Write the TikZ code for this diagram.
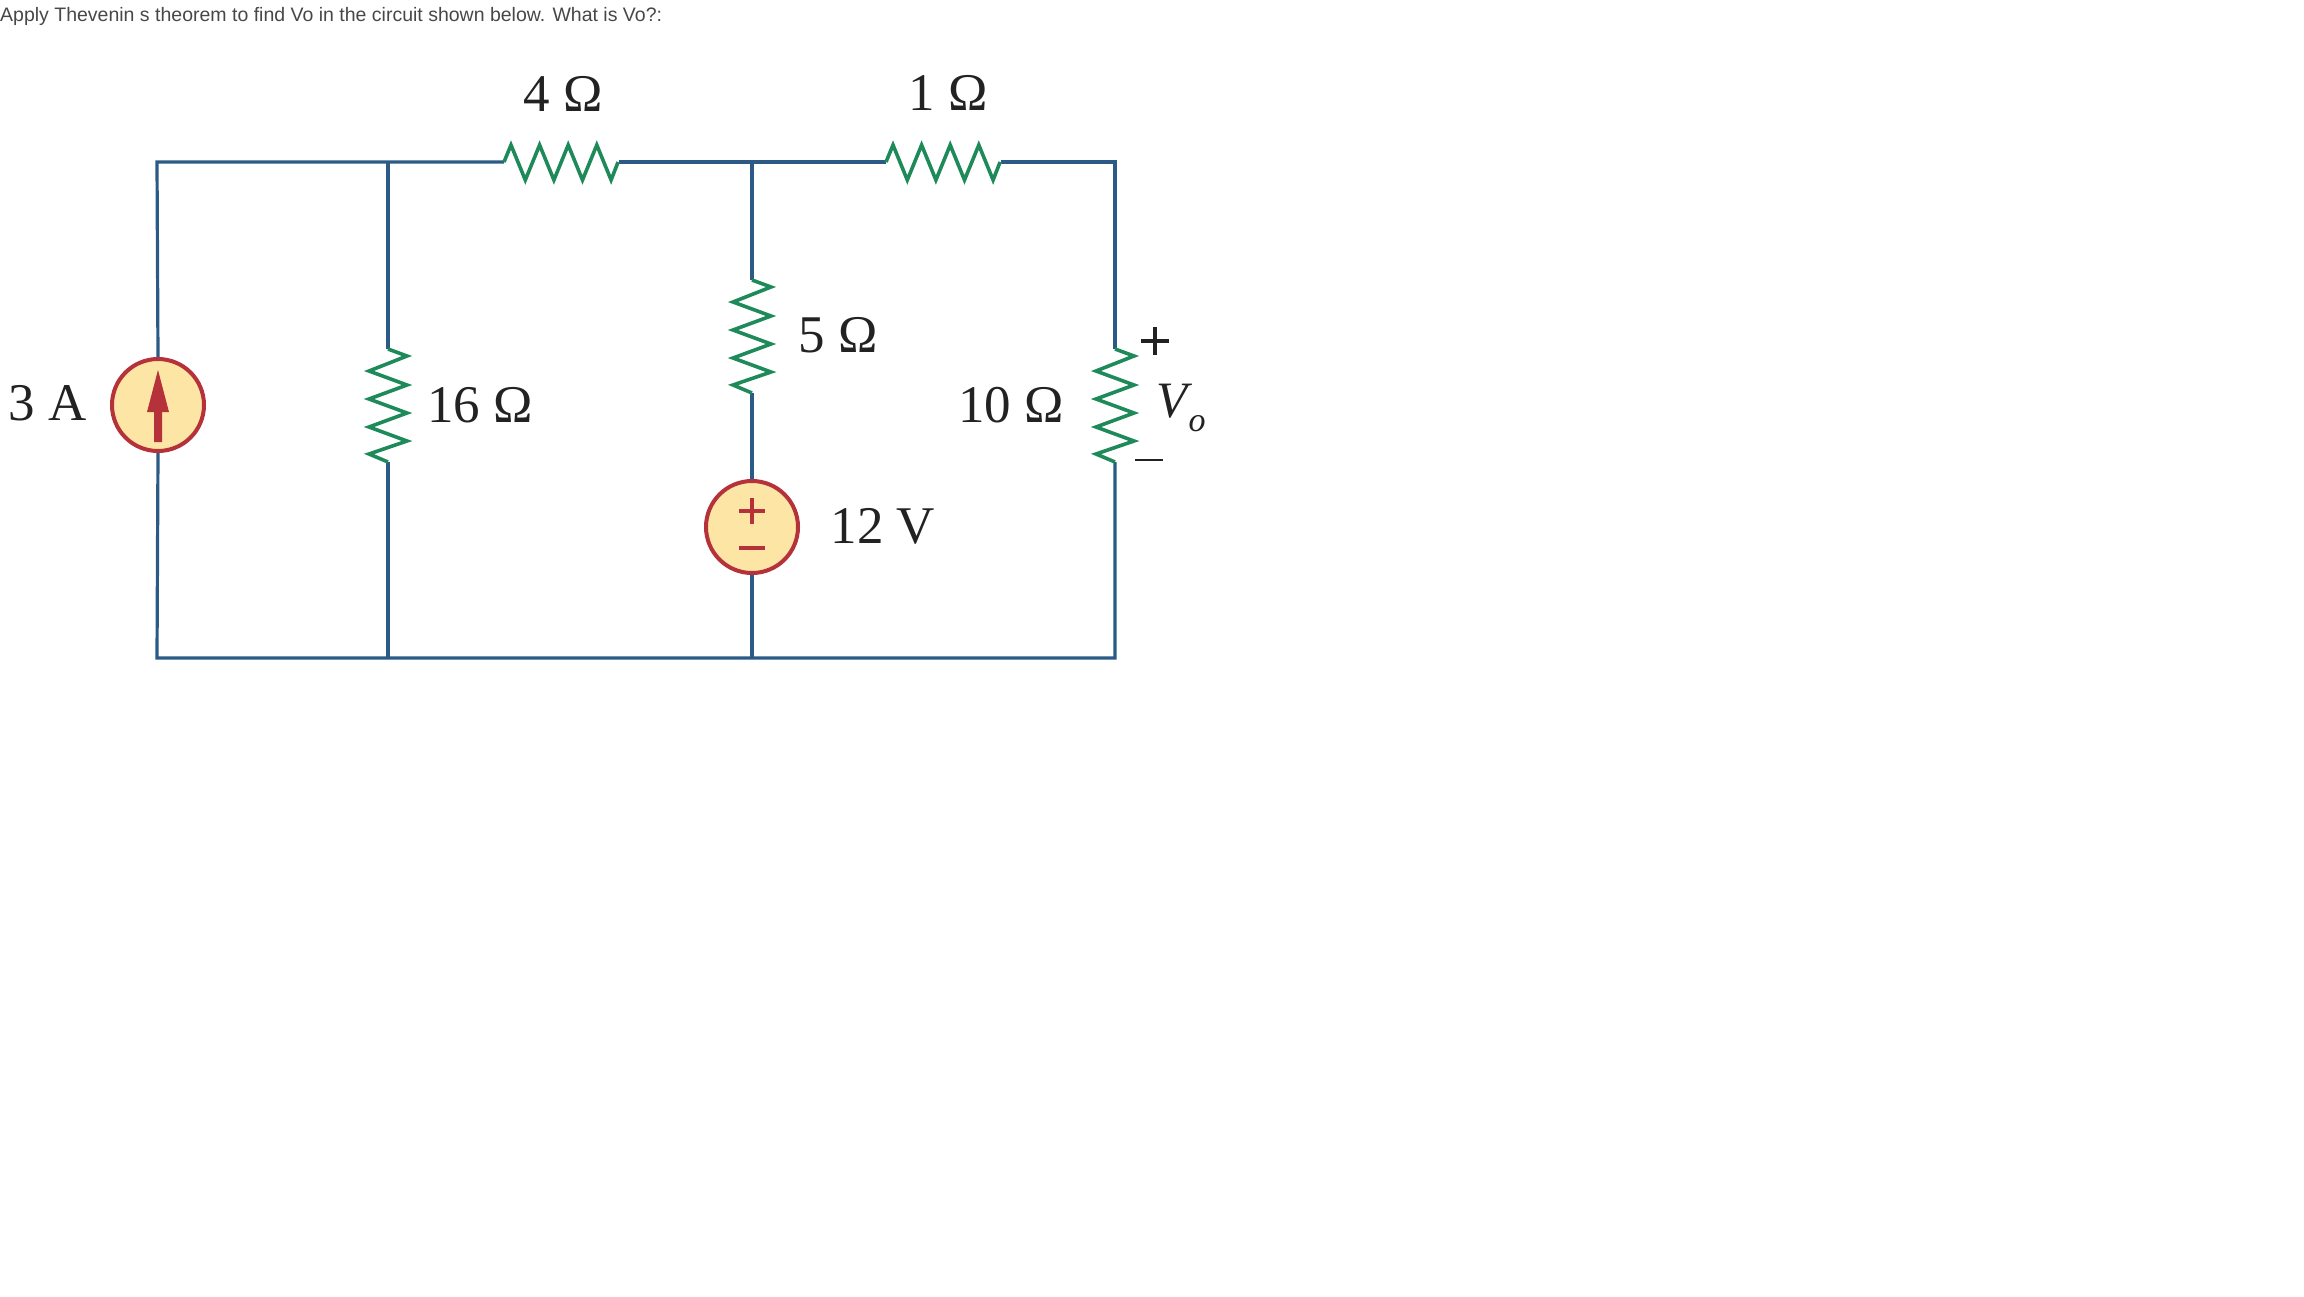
\documentclass[tikz,border=0pt]{standalone}
\usepackage{fontspec}
\setmainfont{Liberation Serif}
\newfontfamily\titlefont{Liberation Sans}
\definecolor{wireblue}{HTML}{2A5A85}
\definecolor{resgreen}{HTML}{1E8A5A}
\definecolor{srcred}{HTML}{B5323A}
\definecolor{srcfill}{HTML}{FDE5A5}
\definecolor{inktext}{HTML}{222222}
\newcommand{\vzig}[1]{\draw[resline] (#1) -- ++(19,7) -- ++(-38,15) -- ++(38,14) -- ++(-38,14) -- ++(38,14) -- ++(-38,14) -- ++(38,14) -- ++(-38,13) -- ++(19,8);}
\newcommand{\hzig}[1]{\draw[resline] (#1) -- ++(7,-17) -- ++(14.3,35) -- ++(14.3,-35) -- ++(14.3,35) -- ++(14.3,-35) -- ++(14.3,35) -- ++(14.3,-35) -- ++(14.3,35) -- ++(7,-18);}
\tikzset{
  wire/.style={draw=wireblue,line width=3.2pt},
  resline/.style={draw=resgreen,line width=3.6pt,line join=miter},
  source/.style={circle,draw=srcred,fill=srcfill,line width=4pt,minimum size=92pt,inner sep=0pt},
  val/.style={font=\fontsize{53}{53}\selectfont,text=inktext,inner sep=0pt}
}
\begin{document}
\begin{tikzpicture}[x=1pt,y=-1pt]
\useasboundingbox (0,0) rectangle (2304,1296);
\node[anchor=west,inner sep=0pt,text=black!72,font=\titlefont\fontsize{19.5}{19.5}\selectfont] (title) at (0,16) {Apply Thevenin s theorem to find Vo in the circuit shown below. What is Vo?:};

% junctions
\coordinate (tl) at (157,162);
\coordinate (t16) at (388,162);
\coordinate (t5) at (752,162);
\coordinate (tr) at (1115,162);
\coordinate (bl) at (157,658);
\coordinate (b16) at (388,658);
\coordinate (b5) at (752,658);
\coordinate (br) at (1115,658);
% resistor ends
\coordinate (r4a) at (504,162);
\coordinate (r4b) at (619,162);
\coordinate (r1a) at (886,162);
\coordinate (r1b) at (1001,162);
\coordinate (r16a) at (388,349);
\coordinate (r16b) at (388,462);
\coordinate (r5a) at (752,280);
\coordinate (r5b) at (752,393);
\coordinate (r10a) at (1115,349);
\coordinate (r10b) at (1115,462);
% sources
\node[source] (cs) at (158,405) {};
\node[source] (vs) at (752,527) {};

% wires
\draw[wire] (cs.north) -- (tl) -- (r4a);
\draw[wire] (r4b) -- (r1a);
\draw[wire] (r1b) -- (tr) -- (r10a);
\draw[wire] (r10b) -- (br) -- (bl) -- (cs.south);
\draw[wire] (t16) -- (r16a);
\draw[wire] (r16b) -- (b16);
\draw[wire] (t5) -- (r5a);
\draw[wire] (r5b) -- (vs.north);
\draw[wire] (vs.south) -- (b5);

% resistors
\hzig{r4a}
\hzig{r1a}
\vzig{r16a}
\vzig{r5a}
\vzig{r10a}

% source symbols
\fill[srcred] (158,370) -- (169,412) -- (162,412) -- (162,442) -- (154,442) -- (154,412) -- (147,412) -- cycle;
\draw[srcred,line width=3.4pt] (739,511) -- (765,511) (752,498) -- (752,524);
\draw[srcred,line width=3.4pt] (739,548) -- (765,548);

% labels
\node[val] (l3a) at (48,403) {3 A};
\node[val] (l4) at (563,94) {4 Ω};
\node[val] (l1) at (948,93) {1 Ω};
\node[val] (l16) at (480,405) {16 Ω};
\node[val] (l5) at (838,335) {5 Ω};
\node[val] (l10) at (1011,405) {10 Ω};
\node[val] (l12) at (883,526) {12 V};
\draw[inktext,line width=3.4pt] (1141,341) -- (1169,341) (1155,327) -- (1155,355);
\node[val,font=\fontsize{51}{51}\selectfont\itshape] (lv) at (1172,401) {V};
\node[val,font=\fontsize{34}{34}\selectfont\itshape] (lo) at (1197,424) {o};
\draw[inktext,line width=2.6pt] (1135,460) -- (1163,460);
\end{tikzpicture}
\end{document}
